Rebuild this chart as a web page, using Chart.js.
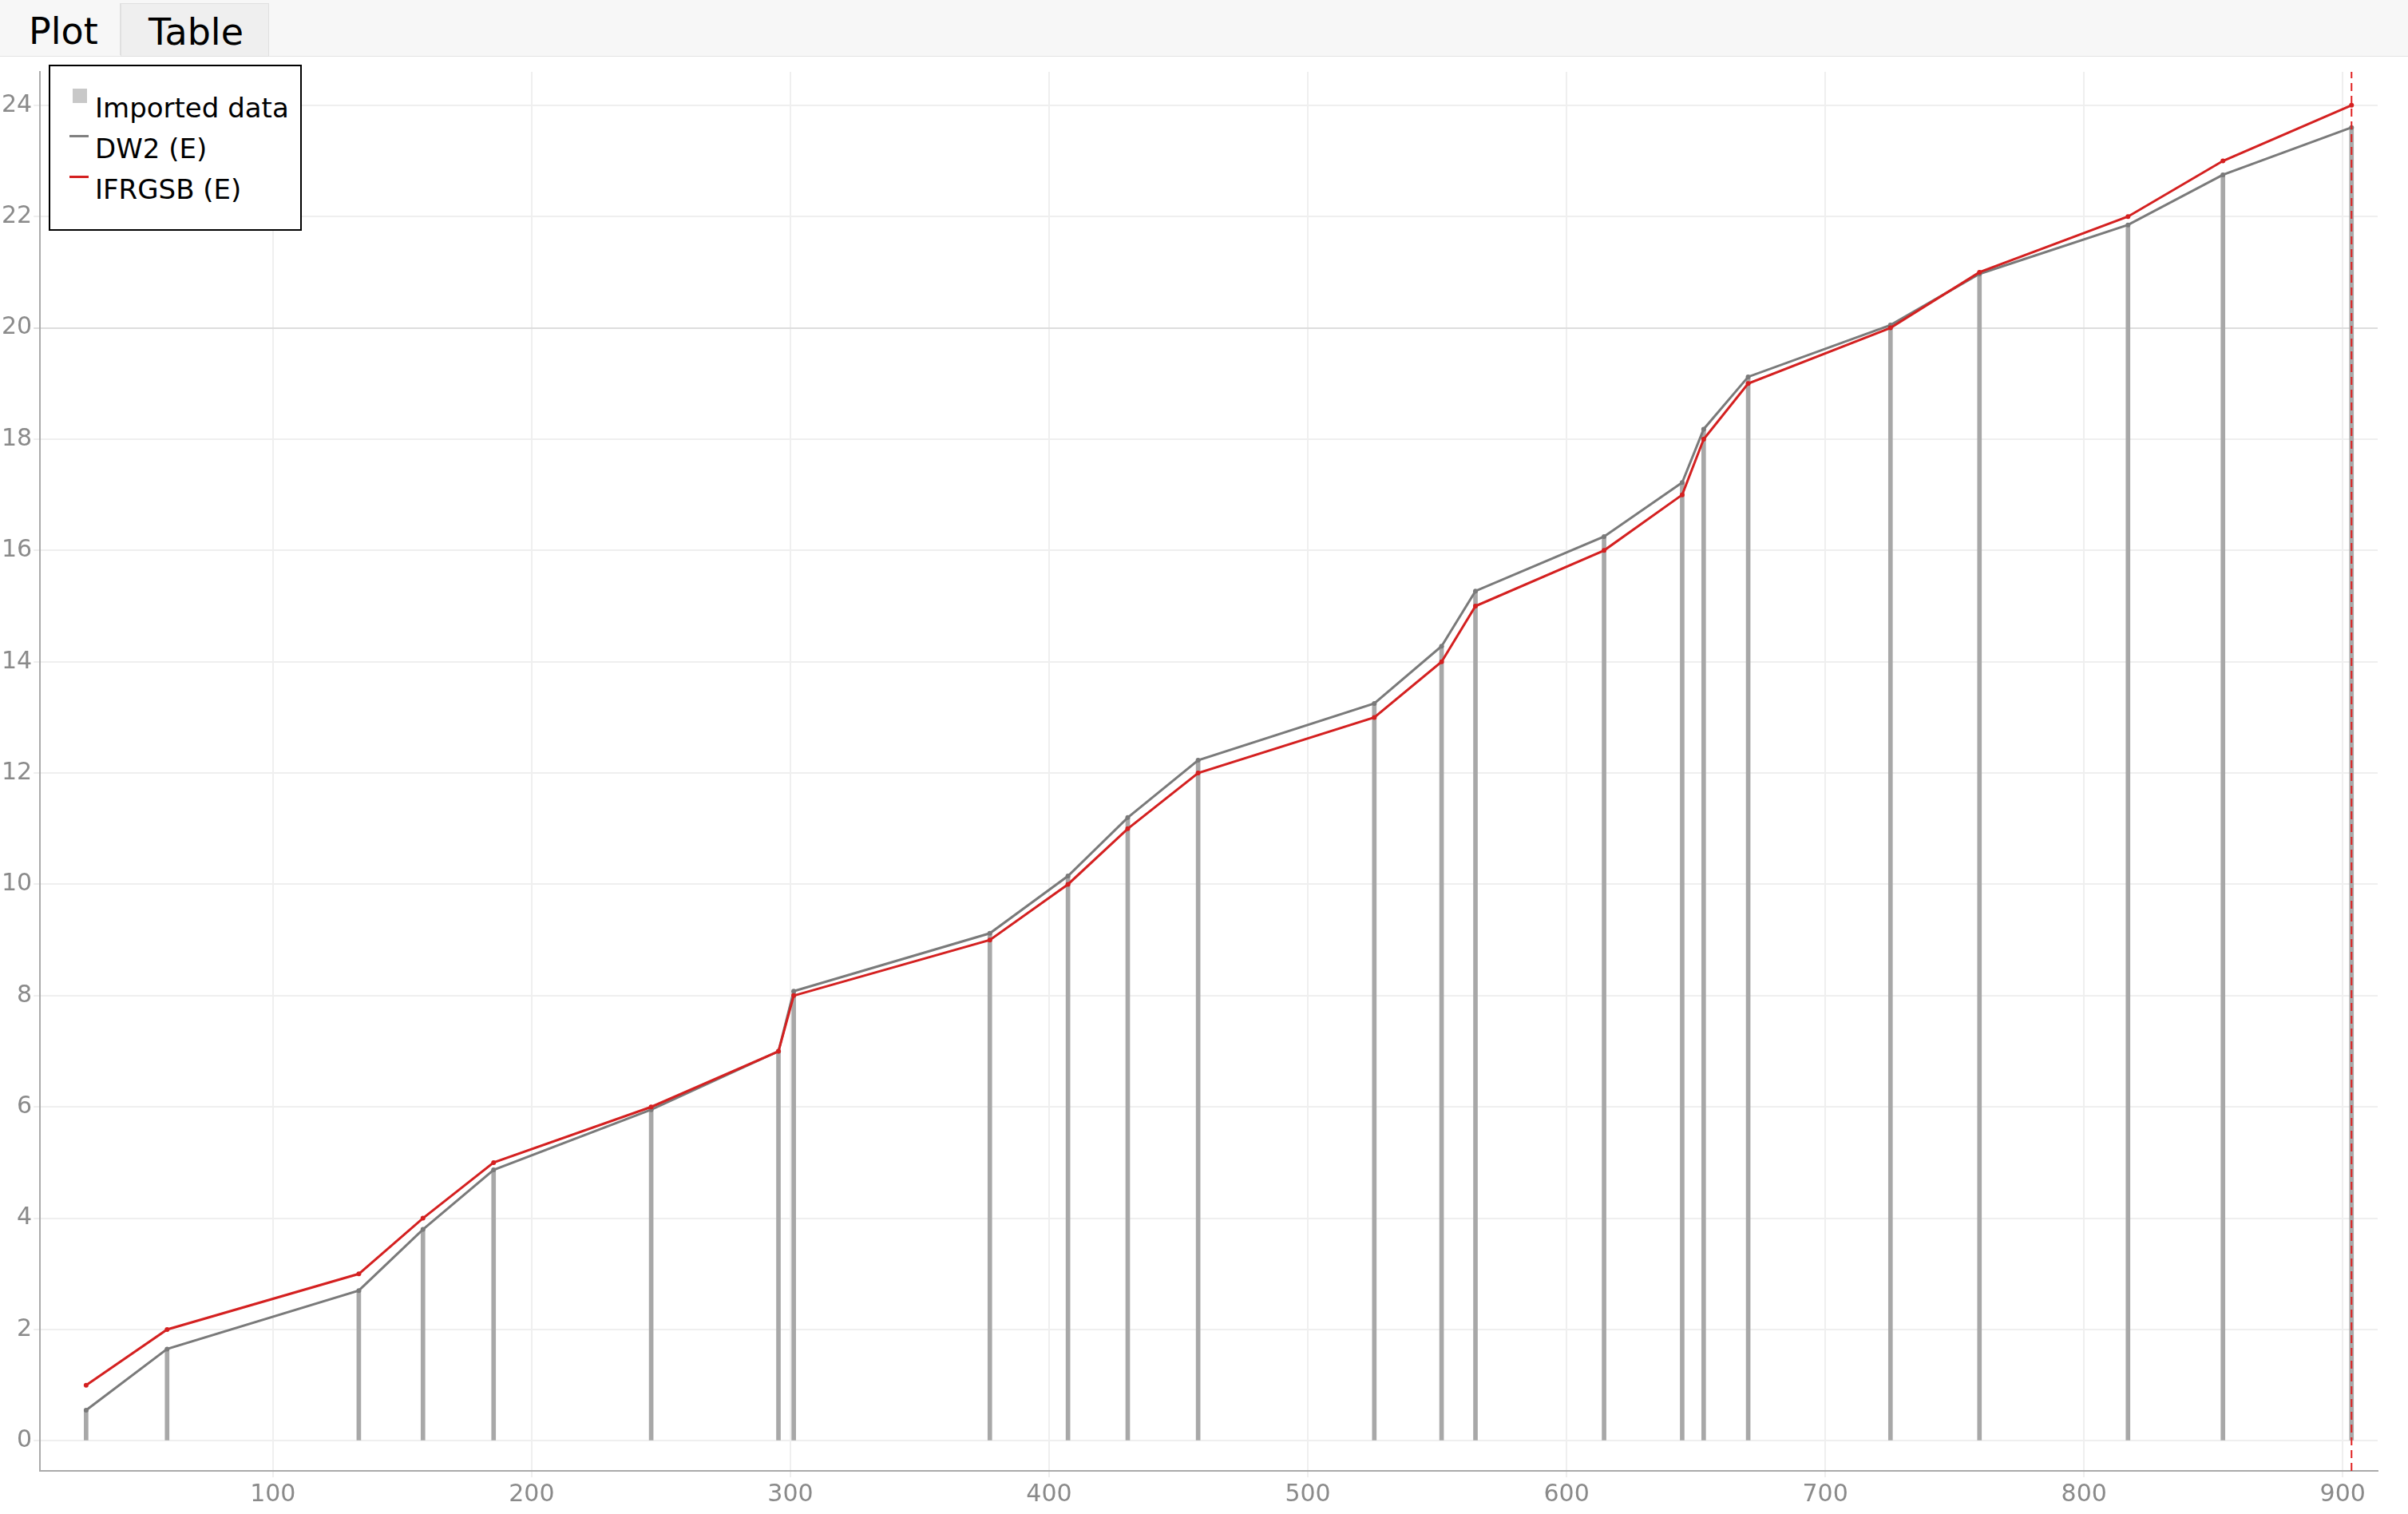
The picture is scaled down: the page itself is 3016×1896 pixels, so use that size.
<!DOCTYPE html>
<html>
<head>
<meta charset="utf-8">
<script src="https://cdn.jsdelivr.net/npm/chart.js@4/dist/chart.umd.min.js"></script>
<style>
  body { margin:0; width:3016px; height:1896px; background:#fff; font-family:"DejaVu Sans", sans-serif; overflow:hidden; }
  #tabs { position:absolute; left:0; top:0; width:3016px; height:70px; background:#f7f7f7; border-bottom:1px solid #e4e4e4; }
  .tab { position:absolute; top:4px; height:65px; font-size:46px; line-height:70px; color:#000; }
  #wrap { position:absolute; left:0; top:70px; width:3016px; height:1826px; }
  #legend { position:absolute; left:61px; top:81px; width:313px; height:204px; border:2px solid #000; background:#fff; font-size:34px; }
  #legend div { position:absolute; left:56px; }
</style>
</head>
<body>
<div id="tabs">
  <div class="tab" style="left:0;width:150px;background:#f7f7f7;border-right:1px solid #e0e0e0;"><span style="margin-left:36px">Plot</span></div>
  <div class="tab" style="left:151px;width:184px;background:#efefef;border:1px solid #e0e0e0;"><span style="margin-left:34px">Table</span></div>
</div>
<div id="wrap"><canvas id="chart"></canvas></div>
<div id="legend">
  <span style="position:absolute;left:28px;top:28px;width:18px;height:18px;background:#c8c8c8"></span>
  <div style="top:32px">Imported data</div>
  <span style="position:absolute;left:24px;top:86px;width:24px;height:3px;background:#808080"></span>
  <div style="top:83px">DW2 (E)</div>
  <span style="position:absolute;left:24px;top:137px;width:24px;height:3px;background:#d42020"></span>
  <div style="top:134px">IFRGSB (E)</div>
</div>
<script>
// positions
const xs = [27.8, 59.1, 133.2, 158, 185.3, 246.2, 295.4, 301.3, 377.1, 407.3, 430.4, 457.6,
  525.7, 551.7, 564.8, 614.5, 644.7, 653, 670.2, 725.2, 759.6, 817, 853.7, 903.4];
const ifrgsb = [1, 2, 3, 4, 5, 6, 7, 8, 9, 10, 11, 12, 13, 14, 15, 16, 17, 18, 19, 20, 21, 22, 23, 24];
const dw2 = [0.55, 1.65, 2.7, 3.8, 4.87, 5.95, 7, 8.08, 9.12, 10.15, 11.2, 12.23, 13.25, 14.28,
  15.27, 16.25, 17.22, 18.18, 19.12, 20.05, 20.97, 21.85, 22.75, 23.6];
const markerX = 903.4;
const yTicks = [0, 2, 4, 6, 8, 10, 12, 14, 16, 18, 20, 22, 24];
const xTicks = [100, 200, 300, 400, 500, 600, 700, 800, 900];

const pts = (a) => xs.map((x, i) => ({x: x, y: a[i]}));

new Chart(document.getElementById('chart'), {
  data: {
    datasets: [
      { type: 'line', label: 'marker', data: [{x: markerX, y: -0.54}, {x: markerX, y: 24.6}],
        borderColor: '#e02020', borderWidth: 2, borderDash: [10, 6], pointRadius: 0 },
      { type: 'line', label: 'IFRGSB (E)', data: pts(ifrgsb), borderColor: '#d42020', borderWidth: 3,
        pointRadius: 3, pointBackgroundColor: '#d42020', pointBorderWidth: 0, tension: 0 },
      { type: 'line', label: 'DW2 (E)', data: pts(dw2), borderColor: '#7a7a7a', borderWidth: 3,
        pointRadius: 3, pointBackgroundColor: '#7a7a7a', pointBorderWidth: 0, tension: 0 },
      { type: 'bar', label: 'Imported data', data: pts(dw2), backgroundColor: '#a8a8a8',
        barThickness: 5, grouped: false }
    ]
  },
  options: {
    responsive: true, maintainAspectRatio: false, animation: false,
    layout: { padding: { left: 0, right: 38, top: 0, bottom: 2 } },
    plugins: { legend: { display: false }, tooltip: { enabled: false } },
    scales: {
      x: { type: 'linear', min: 10, max: 913.5, offset: false,
        afterBuildTicks: (s) => { s.ticks = xTicks.map(v => ({value: v})); },
        grid: { color: '#efefef', lineWidth: 2, offset: false },
        border: { color: '#aaaaaa', width: 2 },
        ticks: { color: '#8a8a8a', font: { size: 30, family: 'DejaVu Sans' }, padding: 4 } },
      y: { type: 'linear', min: -0.54, max: 24.6,
        afterBuildTicks: (s) => { s.ticks = yTicks.map(v => ({value: v})); },
        grid: { color: (c) => c.tick && c.tick.value === 20 ? '#dddddd' : '#efefef', lineWidth: 2 },
        border: { color: '#aaaaaa', width: 2 },
        ticks: { color: '#8a8a8a', font: { size: 30, family: 'DejaVu Sans' }, padding: 2 } }
    }
  }
});
</script>
</body>
</html>
